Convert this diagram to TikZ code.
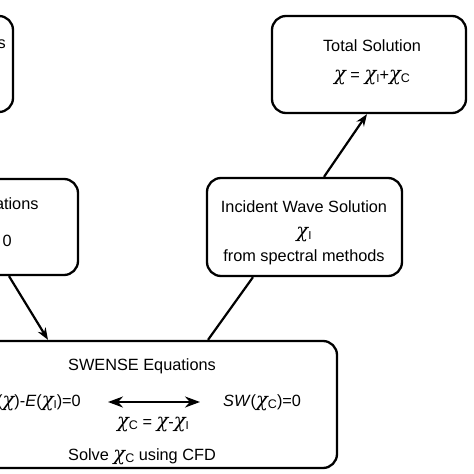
\documentclass[tikz,border=0pt]{standalone}
\usepackage{fontspec}
\setmainfont{Liberation Sans}
\newfontfamily\grkfont{DejaVu Serif}
\usetikzlibrary{arrows.meta,calc}
\newcommand{\chiG}{{\grkfont\itshape\fontsize{19.5}{20}\selectfont χ}}
\newcommand{\subI}{\raisebox{-0.3ex}{\fontsize{11.5}{11}\selectfont I}}
\newcommand{\subC}{\raisebox{-0.3ex}{\fontsize{12.5}{12}\selectfont C}}
\begin{document}
\begin{tikzpicture}[x=1pt,y=-1pt,
  box/.style={draw,line width=2.3pt,rounded corners=14pt,inner sep=0pt},
  txt/.style={inner sep=0pt,anchor=base,font=\fontsize{16.3}{19}\selectfont},
  conn/.style={line width=2.2pt},
  arr/.style={conn,-{Stealth[length=12pt,width=9pt]}},
  darr/.style={conn,{Stealth[length=15pt,width=11pt]}-{Stealth[length=15pt,width=11pt]}}]
\useasboundingbox (0,0) rectangle (474,474);
\fill[white] (0,0) rectangle (474,474);
% boxes
\node[box,minimum width=195pt,minimum height=96pt] (TL) at (-84.5,64) {};
\node[box,minimum width=194pt,minimum height=97pt] (TS) at (369,64.5) {};
\node[box,minimum width=195pt,minimum height=96pt] (EU) at (-19.5,227) {};
\node[box,minimum width=195pt,minimum height=98pt] (IW) at (304.5,227) {};
\node[box,minimum width=390pt,minimum height=127pt] (SW) at (142,404.5) {};
% texts
\node[txt] (tlT) at (-84,48) {Navier-Stokes Equations};
\node[txt] (tsT) at (372,51) {Total Solution};
\node[txt] (tsF) at (372,80) {\chiG{} = \chiG\subI+\chiG\subC};
\node[txt] (euT) at (-19,209) {Euler Equations};
\node[txt] (euF) at (-19,246) {\textit{E}(\chiG) = 0};
\node[txt] (iwT) at (304,212) {Incident Wave Solution};
\node[txt] (iwF) at (304,237) {\chiG\subI};
\node[txt] (iwS) at (304,261) {from spectral methods};
\node[txt] (swT) at (142,370) {SWENSE Equations};
\node[txt,anchor=base east] (swL) at (81,406) {NS(\chiG)-\textit{E}(\chiG\subI)=0};
\node[txt,anchor=base west] (swR) at (223,406) {\textit{SW}(\chiG\subC)=0};
\node[txt] (swM) at (153,427) {\chiG\subC{} = \chiG-\chiG\subI};
\node[txt] (swS) at (142,460) {Solve \chiG\subC{} using CFD};
% connectors
\coordinate (dl) at (108,402);
\coordinate (dr) at (200,402);
\draw[darr] (dl) -- (dr);
\draw[arr] (EU.south -| 9,0) -- (SW.north -| 48,0);
\draw[conn] (SW.north -| 208,0) -- (IW.south -| 253,0);
\draw[arr] (IW.north -| 324,0) -- (TS.south -| 367,0);
\end{tikzpicture}
\end{document}
